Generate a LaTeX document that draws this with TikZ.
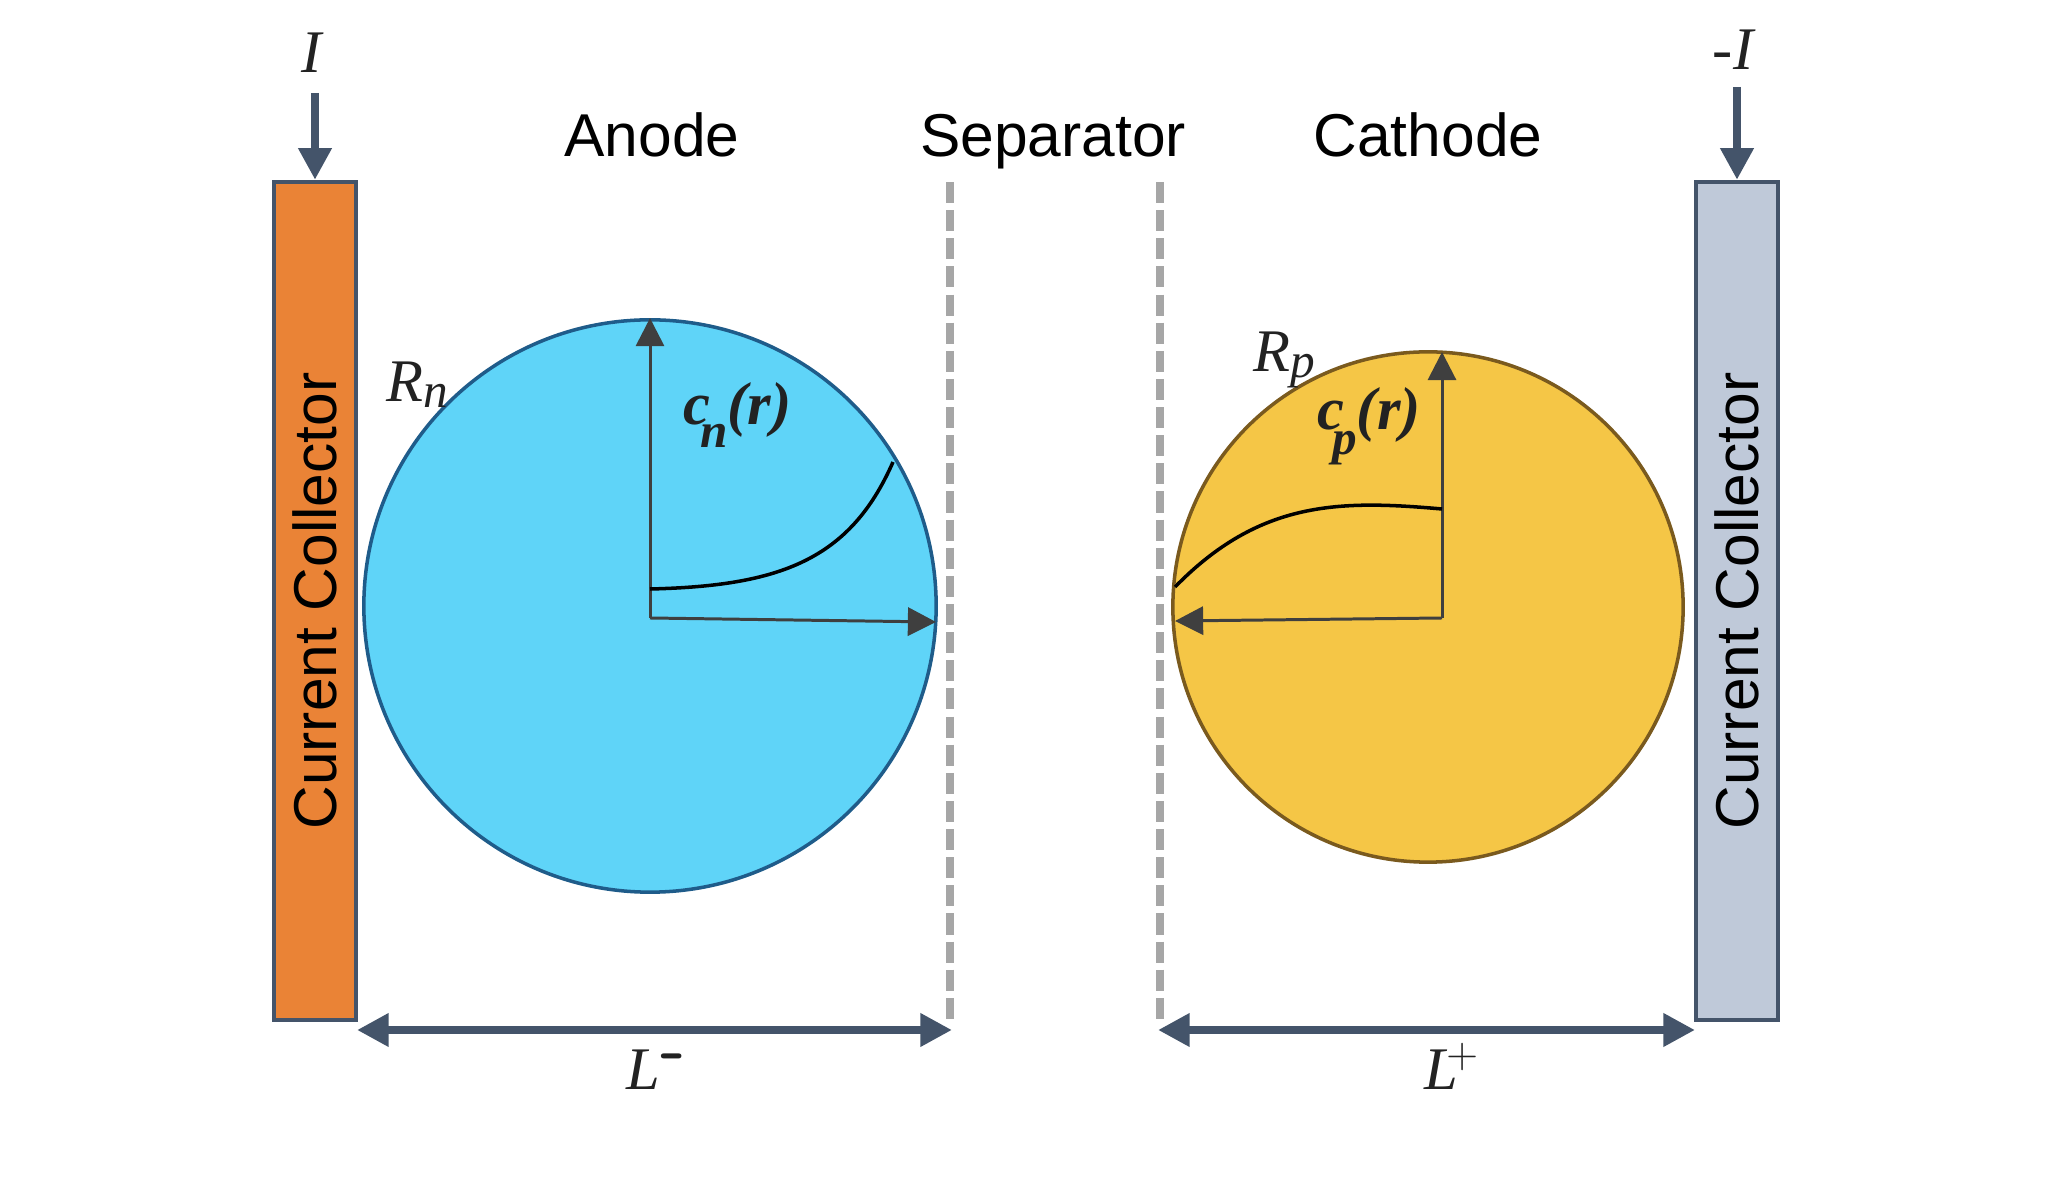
\documentclass[tikz,border=0pt]{standalone}
\usepackage{fontspec}
\setmainfont{Liberation Sans}
\newfontfamily\tms{Liberation Serif}
\usetikzlibrary{arrows.meta}
\definecolor{ccorange}{HTML}{EA8336}
\definecolor{ccgray}{HTML}{BFC9D9}
\definecolor{slate}{HTML}{44546A}
\definecolor{anodefill}{HTML}{5FD4F8}
\definecolor{anodeedge}{HTML}{1F5C8A}
\definecolor{cathfill}{HTML}{F5C646}
\definecolor{cathedge}{HTML}{7A5A1E}
\definecolor{sepgray}{HTML}{A6A6A6}
\definecolor{axisgray}{HTML}{3F3F3F}
\definecolor{textdark}{HTML}{222222}
\begin{document}
\begin{tikzpicture}[x=0.01cm,y=-0.01cm,
  collector/.style={draw=slate, line width=1.1pt, minimum width=0.82cm, minimum height=8.38cm, inner sep=0pt},
  particle/.style={circle, line width=1pt, inner sep=0pt},
  heading/.style={font=\fontsize{17.2}{20}\selectfont, anchor=base, inner sep=0pt},
  symb/.style={font=\tms\itshape\fontsize{17.2}{20}\selectfont, text=textdark, inner sep=0pt},
  conc/.style={font=\tms\bfseries\itshape\fontsize{17.2}{20}\selectfont, text=textdark, inner sep=0pt},
  current/.style={draw=slate, line width=2.4pt, -{Triangle[length=9pt,width=9pt]}},
  span/.style={draw=slate, line width=2.4pt, {Triangle[length=9pt,width=9pt]}-{Triangle[length=9pt,width=9pt]}},
  axis/.style={draw=axisgray, line width=0.85pt, -{Triangle[length=8pt,width=8pt]}},
  profile/.style={draw=black, line width=1pt},
  sepline/.style={draw=sepgray, line width=2pt, dash pattern=on 6pt off 2pt}
]
\path[use as bounding box] (0,0) rectangle (2048,1192);

% current collectors
\node[collector, fill=ccorange] (ccl) at (315,601) {\rotatebox{90}{\fontsize{17.2}{20}\selectfont Current Collector}};
\node[collector, fill=ccgray] (ccr) at (1737,601) {\rotatebox{90}{\fontsize{17.2}{20}\selectfont Current Collector}};

% current labels and arrows
\node[symb, anchor=base] (Il) at (312,73) {I};
\node[symb, anchor=base] (Ir) at (1733,70) {-I};
\coordinate (il) at (315,93);
\coordinate (ir) at (1737,87);
\draw[current] (il) -- (ccl.north);
\draw[current] (ir) -- (ccr.north);

% headings
\node[heading] (anode) at (652,157) {Anode};
\node[heading] (sep) at (1053,157) {Separator};
\node[heading] (cath) at (1428,157) {Cathode};

% separator boundaries
\coordinate (s1t) at (950,182); \coordinate (s1b) at (950,1020);
\coordinate (s2t) at (1160,182); \coordinate (s2b) at (1160,1020);
\draw[sepline] (s1t) -- (s1b);
\draw[sepline] (s2t) -- (s2b);

% particles
\node[particle, draw=anodeedge, fill=anodefill, minimum size=5.72cm] (an) at (650,606) {};
\node[particle, draw=cathedge, fill=cathfill, minimum size=5.1cm] (ca) at (1428,607) {};

% anode axes and profile
\coordinate (ao) at (650,618);
\coordinate (ae) at (936,622);
\draw[axis] (ao) -- (an.north);
\draw[axis] (ao) -- (ae);
\coordinate (a0) at (650,589);
\coordinate (a1) at (893,462);
\draw[profile] (a0) .. controls (780,586) and (850,560) .. (a1);

% cathode axes and profile
\coordinate (co) at (1442,618);
\coordinate (ct) at (1442,352);
\coordinate (cw) at (1175,621);
\draw[axis] (co) -- (ct);
\draw[axis] (co) -- (cw);
\coordinate (c0) at (1442,509);
\coordinate (c1) at (1175,587);
\draw[profile] (c0) .. controls (1340,500) and (1260,500) .. (c1);

% radius labels
\node[symb, anchor=base west] (Rn) at (386,402) {R\raisebox{-0.2ex}{\fontsize{14}{15}\selectfont n}};
\node[symb, anchor=base west] (Rp) at (1253,372) {R\raisebox{-0.2ex}{\fontsize{14}{15}\selectfont p}};

% concentration labels
\node[conc, anchor=base west] (cn) at (683,425) {c\kern-3pt\raisebox{-6.5pt}{\fontsize{14}{15}\selectfont n}(r)};
\node[conc, anchor=base west] (cp) at (1317,430) {c\kern-3.5pt\raisebox{-7pt}{\fontsize{14}{15}\selectfont p}(r)};

% thickness spans
\coordinate (lm1) at (357,1030); \coordinate (lm2) at (952,1030);
\coordinate (lp1) at (1158,1030); \coordinate (lp2) at (1695,1030);
\draw[span] (lm1) -- (lm2);
\draw[span] (lp1) -- (lp2);
\node[symb, anchor=base west] (Lm) at (626,1090) {L\raisebox{5pt}{\fontsize{20}{22}\selectfont\sffamily\bfseries\upshape -}};
\node[symb, anchor=base west] (Lp) at (1424,1090) {L\kern-3.4pt\raisebox{6.4pt}{\fontsize{12}{13}\selectfont\sffamily\upshape +}};
\end{tikzpicture}
\end{document}
